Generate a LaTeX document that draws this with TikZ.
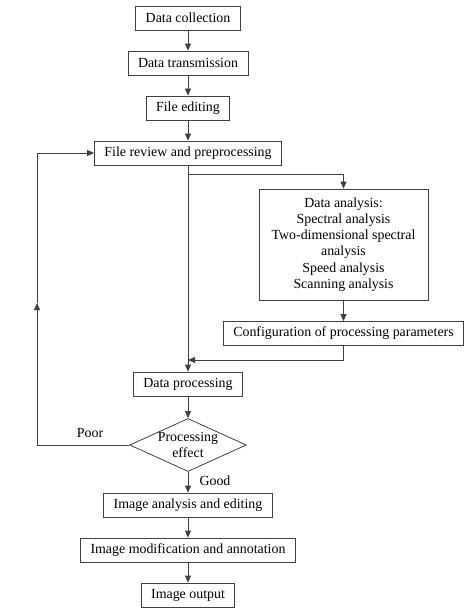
\documentclass[tikz,border=0pt]{standalone}
\usepackage{fontspec}
\setmainfont{Liberation Serif}
\usetikzlibrary{arrows.meta,shapes.geometric}
\begin{document}
\begin{tikzpicture}[x=1pt, y=-1pt,
    txt/.style={font=\fontsize{13.9}{16.3}\selectfont},
    box/.style={txt, draw=black!75, line width=0.8pt, minimum height=24pt, inner xsep=10pt, inner ysep=0pt},
    decision/.style={txt, diamond, draw=black!75, line width=0.8pt, aspect=2.2, inner sep=0pt, align=center},
    flow/.style={draw=black!75, line width=0.8pt, -{Triangle[length=7pt,width=6pt]}},
    line/.style={draw=black!75, line width=0.8pt}]
      \def\midx{188}
      \def\sidex{343.5}
      \def\loopx{37}
      \useasboundingbox (0,0) rectangle (474,612);
      \node[box] (collect) at (\midx, 18) {Data collection};
      \node[box] (transmit) at (\midx, 63) {Data transmission};
      \node[box] (editing) at (\midx, 108) {File editing};
      \node[box] (review) at (\midx, 153) {File review and preprocessing};
      \node[box, align=center, minimum width=169pt, minimum height=111pt] (analysis) at (\sidex, 244.5)
        {Data analysis:\\Spectral analysis\\Two-dimensional spectral\\analysis\\Speed analysis\\Scanning analysis};
      \node[box] (config) at (\sidex, 333.5) {Configuration of processing parameters};
      \node[box] (process) at (\midx, 384) {Data processing};
      \node[decision] (effect) at (\midx, 445) {Processing\\effect};
      \node[box] (imganalysis) at (\midx, 505) {Image analysis and editing};
      \node[box] (modify) at (\midx, 550) {Image modification and annotation};
      \node[box] (output) at (\midx, 595) {Image output};
      \node[txt] (poor) at (90, 433) {Poor};
      \node[txt] (good) at (215, 481) {Good};
      \coordinate (split) at (\midx, 174);
      \coordinate (join) at (\midx, 360);
      \coordinate (loop) at (\loopx, 303);
      \draw[flow] (collect) -- (transmit);
      \draw[flow] (transmit) -- (editing);
      \draw[flow] (editing) -- (review);
      \draw[flow] (review) -- (process);
      \draw[flow] (split) -| (analysis.north);
      \draw[flow] (analysis) -- (config);
      \draw[flow] (config.south) |- (join);
      \draw[flow] (process) -- (effect);
      \draw[flow] (effect.west) -| (loop);
      \draw[flow] (loop) |- (review.west);
      \draw[flow] (effect) -- (imganalysis);
      \draw[flow] (imganalysis) -- (modify);
      \draw[flow] (modify) -- (output);
    \end{tikzpicture}
\end{document}
